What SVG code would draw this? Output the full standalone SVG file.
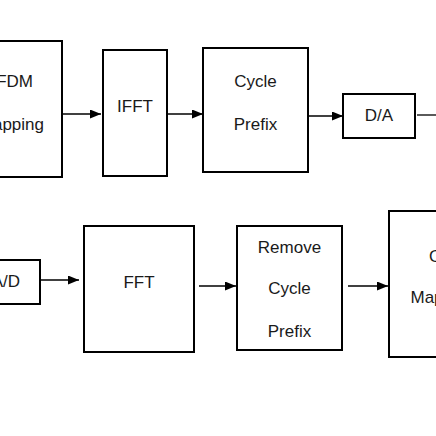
<svg xmlns="http://www.w3.org/2000/svg" width="436" height="436" viewBox="0 0 436 436">
<defs>
<marker id="ah" markerWidth="11" markerHeight="9" refX="11" refY="4.5" orient="auto" markerUnits="userSpaceOnUse">
<path d="M0,0 L11,4.5 L0,9 Z" fill="#000"/>
</marker>
<style>
.box{fill:#fff;stroke:#000;stroke-width:2}
.t{font-family:"Liberation Sans",Arial,sans-serif;font-size:17px;fill:#1a1a1a;text-anchor:middle}
.c{stroke:#000;stroke-width:1.3;fill:none}
</style>
</defs>
<rect width="436" height="436" fill="#fff"/>
<g id="connectors">
<line class="c" x1="62" y1="114" x2="101" y2="114" marker-end="url(#ah)"/>
<line class="c" x1="167" y1="114" x2="203" y2="114" marker-end="url(#ah)"/>
<line class="c" x1="308" y1="116" x2="343" y2="116" marker-end="url(#ah)"/>
<line class="c" x1="417" y1="115" x2="436" y2="115"/>
<line class="c" x1="40" y1="280" x2="79" y2="280" marker-end="url(#ah)"/>
<line class="c" x1="199" y1="286" x2="236" y2="286" marker-end="url(#ah)"/>
<line class="c" x1="348" y1="286" x2="388" y2="286" marker-end="url(#ah)"/>
</g>
<g id="ofdm-mapping">
<rect class="box" x="-42" y="41" width="104" height="136"/>
<text class="t" x="33" y="87" style="text-anchor:end">OFDM</text>
<text class="t" x="44" y="130" style="text-anchor:end">Mapping</text>
</g>
<g id="ifft">
<rect class="box" x="103" y="50" width="64" height="126"/>
<text class="t" x="135" y="112">IFFT</text>
</g>
<g id="cycle-prefix">
<rect class="box" x="203" y="48" width="105" height="124"/>
<text class="t" x="255.5" y="87">Cycle</text>
<text class="t" x="255.5" y="130">Prefix</text>
</g>
<g id="da">
<rect class="box" x="343" y="94" width="72" height="44"/>
<text class="t" x="379" y="121">D/A</text>
</g>
<g id="ad">
<rect class="box" x="-32" y="260" width="72" height="44"/>
<text class="t" x="20" y="287" style="text-anchor:end">A/D</text>
</g>
<g id="fft">
<rect class="box" x="84" y="226" width="110" height="126"/>
<text class="t" x="139" y="288">FFT</text>
</g>
<g id="remove-cycle-prefix">
<rect class="box" x="237" y="226" width="105" height="124"/>
<text class="t" x="289.5" y="253">Remove</text>
<text class="t" x="289.5" y="294">Cycle</text>
<text class="t" x="289.5" y="337">Prefix</text>
</g>
<g id="ofdm-demapping">
<rect class="box" x="389" y="211" width="110" height="146"/>
<text class="t" x="429" y="262" style="text-anchor:start">OFDM</text>
<text class="t" x="410.5" y="303" style="text-anchor:start">Mapping</text>
</g>
</svg>
